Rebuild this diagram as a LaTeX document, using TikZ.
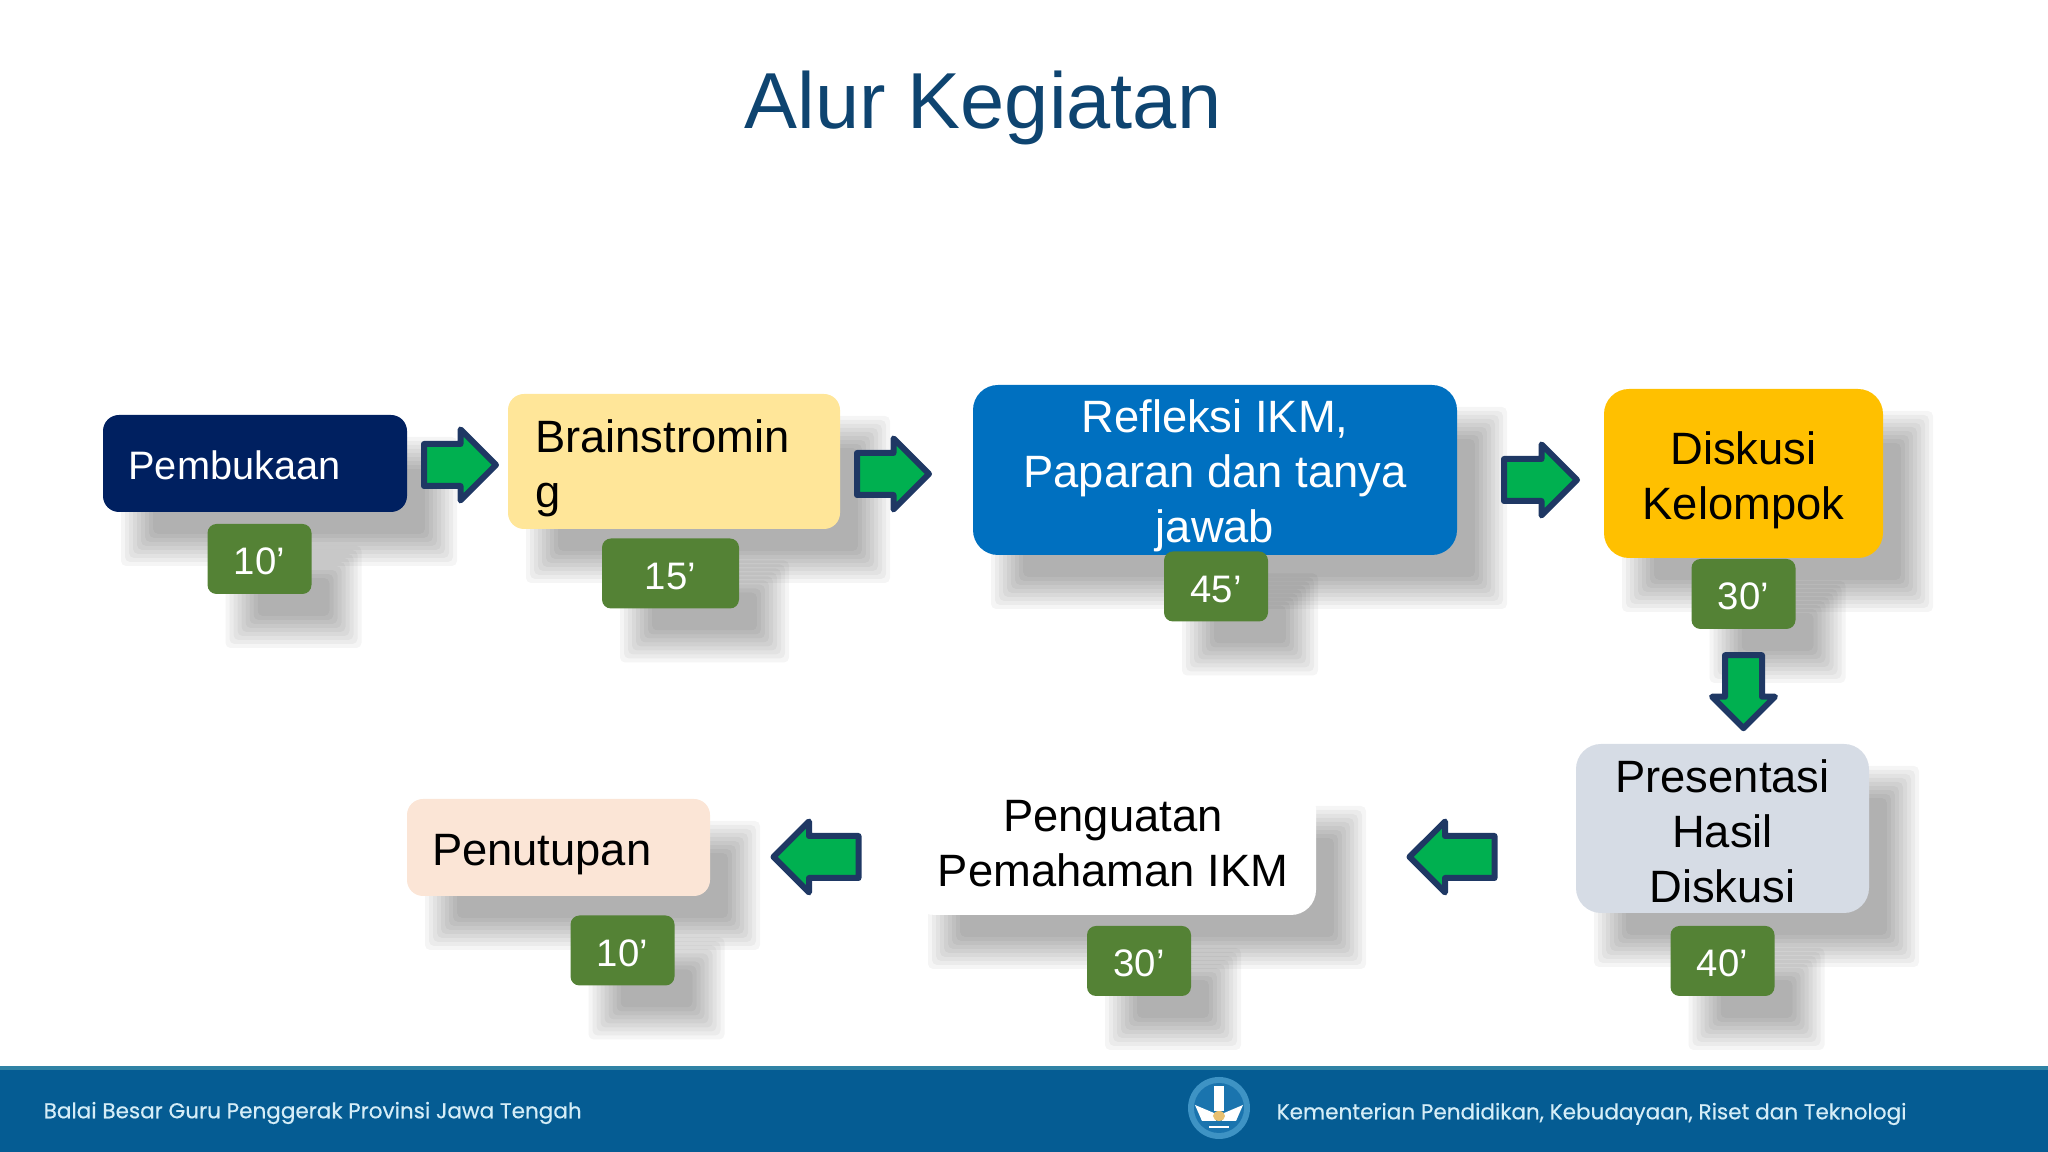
\documentclass[tikz,border=0pt]{standalone}
\usepackage{fontspec}
\setmainfont{Liberation Sans}
\newfontfamily\footerfont[FakeBold=0.4]{Poppins}
\usetikzlibrary{shapes,arrows,calc,backgrounds}

\definecolor{titleblue}{HTML}{0E4470}
\definecolor{navybox}{HTML}{002060}
\definecolor{creambox}{HTML}{FFE699}
\definecolor{bluebox}{HTML}{0070C0}
\definecolor{amberbox}{HTML}{FFC000}
\definecolor{greybox}{HTML}{D6DCE5}
\definecolor{peachbox}{HTML}{FBE5D6}
\definecolor{badgegreen}{HTML}{548235}
\definecolor{arrowgreen}{HTML}{00B050}
\definecolor{arrowline}{HTML}{1F3864}
\definecolor{footerblue}{HTML}{055C93}
\definecolor{footerline}{HTML}{2F82A5}
\definecolor{footertext}{HTML}{D5EDF7}
\definecolor{logoblue}{HTML}{3E93C4}
\definecolor{logoinner}{HTML}{1A74AE}
\definecolor{logogold}{HTML}{E8C070}

\newcommand{\pushdown}[1]{\rule{0pt}{#1}}

\begin{document}
\begin{tikzpicture}
	\tikzstyle {box} = [rounded corners=0.16cm, inner sep=0pt, outer sep=0pt, align=center, font=\fontsize{12.9}{15.6}\selectfont]
	\tikzstyle {left box} = [box, align=left, text width=2.53cm]
	\tikzstyle {badge} = [rounded corners=0.09cm, fill=badgegreen, text=white, inner sep=0pt, outer sep=0pt, minimum width=1.04cm, minimum height=0.70cm, font=\fontsize{10.9}{13}\selectfont]
	\tikzstyle {block arrow} = [single arrow, draw=arrowline, fill=arrowgreen, line width=0.06cm, inner xsep=0pt, inner ysep=0.18cm, outer sep=0pt, single arrow tip angle=90, single arrow head extend=0.145cm, minimum width=0.65cm, line join=round]
	\tikzstyle {footer label} = [anchor=west, inner sep=0pt, text=footertext, font=\footerfont\fontsize{6.13}{8}\selectfont]

	\useasboundingbox (0,0) rectangle (20.48,11.52);

	\fill[footerblue] (0,0) rectangle (20.48,0.86);
	\fill[footerline] (0,0.82) rectangle (20.48,0.86);

	\node[text=titleblue, font=\fontsize{22.6}{27}\selectfont] (title) at (9.83,10.44) {Alur Kegiatan};

	\node[box, left box, fill=navybox, text=white, minimum width=3.04cm, minimum height=0.97cm, font=\fontsize{11.3}{14}\selectfont] (pembukaan) at (2.55,6.885) {\pushdown{9.5pt}Pembukaan};
	\node[box, align=left, text width=2.78cm, fill=creambox, minimum width=3.32cm, minimum height=1.35cm] (brainstroming) at (6.74,6.905) {\pushdown{13pt}Brainstromin\\g};
	\node[box, fill=bluebox, text=white, rounded corners=0.25cm, minimum width=4.84cm, minimum height=1.70cm] (refleksi) at (12.15,6.82) {\pushdown{12.5pt}Refleksi IKM,\\Paparan dan tanya\\jawab};
	\node[box, fill=amberbox, rounded corners=0.25cm, minimum width=2.79cm, minimum height=1.69cm] (diskusi) at (17.435,6.785) {\pushdown{13pt}Diskusi\\Kelompok};
	\node[box, fill=greybox, rounded corners=0.25cm, minimum width=2.93cm, minimum height=1.69cm] (presentasi) at (17.225,3.235) {\pushdown{11pt}Presentasi\\Hasil\\Diskusi};
	\node[box, fill=white, rounded corners=0.25cm, minimum width=4.06cm, minimum height=1.31cm] (penguatan) at (11.13,3.025) {Penguatan\\Pemahaman IKM\rule[-3.4pt]{0pt}{3.4pt}};
	\node[box, left box, fill=peachbox, minimum width=3.03cm, minimum height=0.97cm] (penutupan) at (5.585,3.045) {\pushdown{13pt}Penutupan};

	\node[badge] (time a) at (2.595,5.93) {\pushdown{9pt}10’};
	\node[badge, minimum width=1.37cm] (time b) at (6.705,5.785) {\pushdown{9pt}15’};
	\node[badge] (time c) at (12.16,5.655) {\pushdown{9pt}45’};
	\node[badge] (time d) at (17.435,5.58) {\pushdown{9pt}30’};
	\node[badge] (time e) at (17.225,1.91) {\pushdown{9pt}40’};
	\node[badge] (time f) at (11.39,1.91) {\pushdown{9pt}30’};
	\node[badge] (time g) at (6.225,2.015) {\pushdown{9pt}10’};

	\begin{scope}[on background layer]
		\foreach \n in {pembukaan, brainstroming, refleksi, diskusi, presentasi, penguatan, penutupan, time a, time b, time c, time d, time e, time f, time g}
		\foreach \d in {-0.16, -0.12, -0.08, -0.04, 0, 0.04, 0.08, 0.12, 0.16}
		{
			\fill[black, opacity=0.04, rounded corners=0.05cm] ($(\n.south west)+(0.34-\d,-0.38-\d)$) rectangle ($(\n.north east)+(0.34+\d,-0.38+\d)$);
		}
	\end{scope}

	\node[block arrow, minimum height=0.72cm] (arrow a) at (4.495,6.87) {};
	\node[block arrow, minimum height=0.72cm] (arrow b) at (8.825,6.78) {};
	\node[block arrow, minimum height=0.73cm] (arrow c) at (15.30,6.72) {};
	\node[block arrow, minimum height=0.73cm, minimum width=0.57cm, inner ysep=0.155cm, single arrow head extend=0.13cm, rotate=-90] (arrow d) at (17.435,4.695) {};
	\node[block arrow, minimum height=0.85cm, rotate=180] (arrow e) at (14.625,2.95) {};
	\node[block arrow, minimum height=0.85cm, rotate=180] (arrow f) at (8.265,2.95) {};

	\node[footer label] (balai) at (0.43,0.39) {Balai Besar Guru Penggerak Provinsi Jawa Tengah};
	\node[footer label] (kementerian) at (12.76,0.38) {Kementerian Pendidikan, Kebudayaan, Riset dan Teknologi};

	\begin{scope}[shift={(12.19,0.44)}]
		\fill[logoblue] (0,0) circle (0.31);
		\fill[logoinner] (0,0) circle (0.25);
		\foreach \s in {-1, 1}
		{
			\fill[white] (\s*0.24,0.03) -- (\s*0.05,-0.05) -- (\s*0.03,-0.13) -- (\s*0.17,-0.13) -- cycle;
		}
		\fill[white] (-0.05,-0.03) rectangle (0.05,0.22);
		\fill[logogold] (0,-0.08) ellipse (0.06 and 0.05);
		\fill[white] (-0.10,-0.20) rectangle (0.10,-0.18);
	\end{scope}
\end{tikzpicture}
\end{document}
